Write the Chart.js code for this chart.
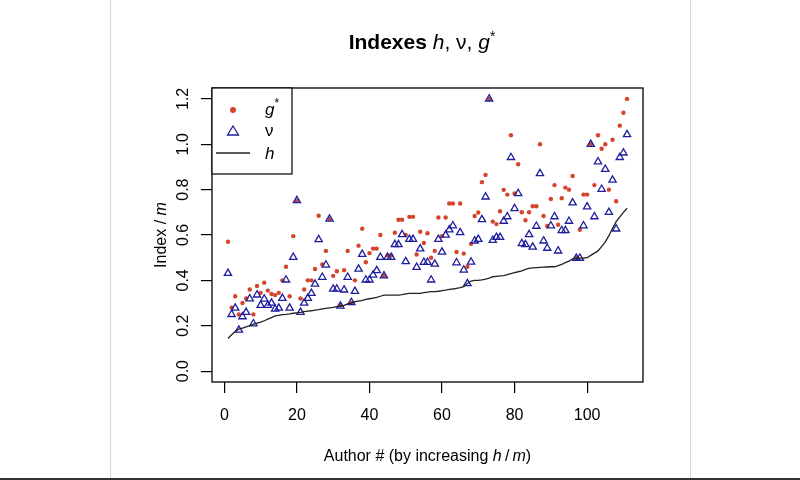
<!DOCTYPE html>
<html>
<head>
<meta charset="utf-8">
<script src="https://cdn.jsdelivr.net/npm/chart.js@4.4.0/dist/chart.umd.min.js"></script>
<style>
  html, body { margin: 0; padding: 0; background: #fff; }
  #wrap { position: relative; width: 800px; height: 480px; overflow: hidden; }
  .edge { position: absolute; top: 0; width: 1px; height: 480px; background: #d6d6d6; }
  #bottomEdge { position: absolute; left: 0; top: 478px; width: 800px; height: 2px; background: #333; }
</style>
</head>
<body>
<div id="wrap">
  <canvas id="chart" width="800" height="480"></canvas>
  <div class="edge" style="left:110px"></div>
  <div class="edge" style="left:690px"></div>
  <div id="bottomEdge"></div>
</div>
<script>
// g*, nu and h (all divided by m), authors sorted by increasing h/m
const gStar = [
  0.57, 0.28, 0.33, 0.25, 0.30, 0.32, 0.36, 0.25, 0.375, 0.345,
  0.39, 0.355, 0.34, 0.335, 0.345, 0.40, 0.46, 0.33, 0.595, 0.75,
  0.32, 0.36, 0.40, 0.40, 0.45, 0.685, 0.47, 0.53, 0.67, 0.42,
  0.44, 0.29, 0.445, 0.53, 0.30, 0.40, 0.553, 0.628, 0.48, 0.52,
  0.54, 0.54, 0.60, 0.42, 0.51, 0.51, 0.61, 0.667, 0.667, 0.60,
  0.68, 0.68, 0.514, 0.614, 0.565, 0.608, 0.50, 0.53, 0.677, 0.595,
  0.677, 0.739, 0.739, 0.525, 0.739, 0.518, 0.46, 0.561, 0.684, 0.699,
  0.833, 0.865, 1.20, 0.659, 0.648, 0.705, 0.799, 0.778, 1.04, 0.783,
  0.912, 0.70, 0.665, 0.70, 0.727, 0.727, 1.0, 0.684, 0.64, 0.759,
  0.82, 0.645, 0.762, 0.809, 0.80, 0.86, 0.50, 0.623, 0.778, 0.778,
  1.0, 0.82, 1.04, 0.98, 1.0, 0.80, 1.02, 0.749, 1.082, 1.139, 1.20
];
const nu = [
  0.431, 0.25, 0.278, 0.181, 0.24, 0.259, 0.319, 0.209, 0.336, 0.29,
  0.318, 0.29, 0.30, 0.274, 0.278, 0.321, 0.402, 0.278, 0.502, 0.752,
  0.259, 0.30, 0.321, 0.343, 0.384, 0.58, 0.414, 0.468, 0.67, 0.362,
  0.362, 0.287, 0.358, 0.414, 0.303, 0.352, 0.45, 0.515, 0.402, 0.402,
  0.424, 0.443, 0.502, 0.42, 0.502, 0.502, 0.558, 0.558, 0.602, 0.483,
  0.581, 0.581, 0.458, 0.539, 0.48, 0.48, 0.402, 0.472, 0.581, 0.525,
  0.60, 0.623, 0.641, 0.478, 0.611, 0.446, 0.386, 0.481, 0.574, 0.581,
  0.668, 0.768, 1.20, 0.577, 0.59, 0.59, 0.661, 0.681, 0.942, 0.717,
  0.783, 0.562, 0.558, 0.602, 0.547, 0.639, 0.871, 0.574, 0.542, 0.641,
  0.681, 0.53, 0.62, 0.62, 0.661, 0.742, 0.498, 0.498, 0.641, 0.724,
  1.0, 0.681, 0.923, 0.802, 0.89, 0.70, 0.842, 0.627, 0.942, 0.962, 1.043
];
const hIdx = [
  0.144, 0.16, 0.175, 0.185, 0.19, 0.195, 0.20, 0.207, 0.212, 0.216,
  0.222, 0.229, 0.236, 0.243, 0.246, 0.249, 0.25, 0.252, 0.255, 0.257,
  0.259, 0.262, 0.264, 0.266, 0.269, 0.271, 0.274, 0.277, 0.279, 0.281,
  0.284, 0.287, 0.29, 0.296, 0.30, 0.306, 0.309, 0.312, 0.316, 0.319,
  0.322, 0.325, 0.33, 0.335, 0.335, 0.335, 0.335, 0.335, 0.337, 0.34,
  0.343, 0.343, 0.343, 0.343, 0.346, 0.348, 0.35, 0.35, 0.352, 0.355,
  0.357, 0.36, 0.362, 0.365, 0.368, 0.372, 0.386, 0.397, 0.40, 0.40,
  0.402, 0.405, 0.41, 0.416, 0.418, 0.42, 0.421, 0.425, 0.43, 0.434,
  0.438, 0.442, 0.448, 0.453, 0.455, 0.456, 0.457, 0.458, 0.459, 0.46,
  0.46, 0.465, 0.47, 0.478, 0.485, 0.495, 0.498, 0.498, 0.498, 0.50,
  0.51, 0.52, 0.53, 0.549, 0.57, 0.597, 0.63, 0.659, 0.68, 0.70, 0.718
];
const xTicks = [0, 20, 40, 60, 80, 100];
const yTicks = [0, 0.2, 0.4, 0.6, 0.8, 1.0, 1.2];
const yTickLabels = ["0.0", "0.2", "0.4", "0.6", "0.8", "1.0", "1.2"];

const authorNo = gStar.map((_, i) => i + 1);
const toPts = arr => arr.map((v, i) => ({ x: authorNo[i], y: v }));

const RED = "#d4452c";
const BLUE = "#1e1e9c";
const FONT = "'Liberation Sans', Arial, Helvetica, sans-serif";

// draws a list of text pieces with their own fonts one after another
function drawRuns(ctx, runs, x, y, align) {
  let total = 0;
  runs.forEach(r => { ctx.font = r.font; total += ctx.measureText(r.text).width; });
  let cx = align === "center" ? x - total / 2 : x;
  ctx.textAlign = "left";
  runs.forEach(r => {
    ctx.font = r.font;
    ctx.fillText(r.text, cx, y + (r.dy || 0));
    cx += ctx.measureText(r.text).width;
  });
}

const rDecor = {
  id: "rDecor",
  afterDraw(chart) {
    const { ctx, chartArea: a, scales } = chart;
    ctx.save();
    ctx.fillStyle = "#000";
    ctx.textBaseline = "alphabetic";

    // plot box
    ctx.strokeStyle = "#000";
    ctx.lineWidth = 1.3;
    ctx.strokeRect(a.left, a.top, a.right - a.left, a.bottom - a.top);

    // y tick labels, parallel to the axis like R
    ctx.font = "16px " + FONT;
    scales.y.ticks.forEach((t, i) => {
      const py = scales.y.getPixelForValue(t.value);
      ctx.save();
      ctx.translate(188, py);
      ctx.rotate(-Math.PI / 2);
      ctx.textAlign = "center";
      ctx.fillText(yTickLabels[i], 0, 0);
      ctx.restore();
    });

    // title
    drawRuns(ctx, [
      { text: "Indexes ", font: "bold 21px " + FONT },
      { text: "h", font: "italic 21px " + FONT },
      { text: ", \u03BD, ", font: "21px " + FONT },
      { text: "g", font: "italic 21px " + FONT },
      { text: "*", font: "14px " + FONT, dy: -8 }
    ], 422, 49, "center");

    // x axis title
    drawRuns(ctx, [
      { text: "Author # (by increasing ", font: "16px " + FONT },
      { text: "h", font: "italic 16px " + FONT },
      { text: "\u2009/\u2009", font: "16px " + FONT },
      { text: "m", font: "italic 16px " + FONT },
      { text: ")", font: "16px " + FONT }
    ], (a.left + a.right) / 2, 461, "center");

    // y axis title
    ctx.save();
    ctx.translate(166, (a.top + a.bottom) / 2);
    ctx.rotate(-Math.PI / 2);
    drawRuns(ctx, [
      { text: "Index / ", font: "16px " + FONT },
      { text: "m", font: "italic 16px " + FONT }
    ], 0, 0, "center");
    ctx.restore();

    // legend
    const lx = a.left, ly = a.top, lw = 80, lh = 86;
    ctx.fillStyle = "#fff";
    ctx.fillRect(lx, ly, lw, lh);
    ctx.strokeStyle = "#000";
    ctx.lineWidth = 1.2;
    ctx.strokeRect(lx, ly, lw, lh);

    const mx = lx + 21, tx = lx + 53;
    const rows = [ly + 22, ly + 43, ly + 65];
    ctx.fillStyle = RED;
    ctx.beginPath();
    ctx.arc(mx, rows[0], 3, 0, Math.PI * 2);
    ctx.fill();

    ctx.strokeStyle = BLUE;
    ctx.lineWidth = 1.3;
    ctx.beginPath();
    ctx.moveTo(mx, rows[1] - 5);
    ctx.lineTo(mx + 5.5, rows[1] + 4);
    ctx.lineTo(mx - 5.5, rows[1] + 4);
    ctx.closePath();
    ctx.stroke();

    ctx.strokeStyle = "#222";
    ctx.lineWidth = 1.3;
    ctx.beginPath();
    ctx.moveTo(lx + 4, rows[2]);
    ctx.lineTo(lx + 38, rows[2]);
    ctx.stroke();

    ctx.fillStyle = "#000";
    drawRuns(ctx, [
      { text: "g", font: "italic 17px " + FONT },
      { text: "*", font: "12px " + FONT, dy: -8 }
    ], tx, rows[0] + 5, "left");
    drawRuns(ctx, [{ text: "\u03BD", font: "17px " + FONT }], tx, rows[1] + 5, "left");
    drawRuns(ctx, [{ text: "h", font: "italic 17px " + FONT }], tx, rows[2] + 6, "left");

    ctx.restore();
  }
};

new Chart(document.getElementById("chart"), {
  type: "scatter",
  data: {
    datasets: [
      {
        label: "h",
        type: "line",
        data: toPts(hIdx),
        borderColor: "#222",
        borderWidth: 1.3,
        pointRadius: 0,
        tension: 0,
        fill: false,
        order: 1
      },
      {
        label: "nu",
        data: toPts(nu),
        pointStyle: "triangle",
        pointRadius: 4.2,
        backgroundColor: "rgba(0,0,0,0)",
        borderColor: BLUE,
        borderWidth: 1.3,
        order: 2
      },
      {
        label: "g*",
        data: toPts(gStar),
        pointStyle: "circle",
        pointRadius: 2.2,
        backgroundColor: RED,
        borderColor: RED,
        borderWidth: 0,
        order: 3
      }
    ]
  },
  options: {
    responsive: false,
    animation: false,
    devicePixelRatio: 1,
    layout: { padding: { top: 88, right: 157, left: 0, bottom: 0 } },
    plugins: {
      legend: { display: false },
      tooltip: { enabled: false },
      title: { display: false }
    },
    scales: {
      x: {
        type: "linear",
        min: -3.4,
        max: 115.4,
        afterBuildTicks: s => { s.ticks = xTicks.map(v => ({ value: v })); },
        afterFit: s => { s.height = 98; },
        border: { display: false },
        grid: { display: true, drawOnChartArea: false, drawTicks: true, tickLength: 11, color: "#000", lineWidth: 1.2 },
        ticks: { color: "#000", font: { family: FONT, size: 16 }, padding: 13, maxRotation: 0 }
      },
      y: {
        type: "linear",
        min: -0.048,
        max: 1.248,
        afterBuildTicks: s => { s.ticks = yTicks.map(v => ({ value: v })); },
        afterFit: s => { s.width = 212; },
        border: { display: false },
        grid: { display: true, drawOnChartArea: false, drawTicks: true, tickLength: 11, color: "#000", lineWidth: 1.2 },
        ticks: { display: false }
      }
    }
  },
  plugins: [rDecor]
});
</script>
</body>
</html>
